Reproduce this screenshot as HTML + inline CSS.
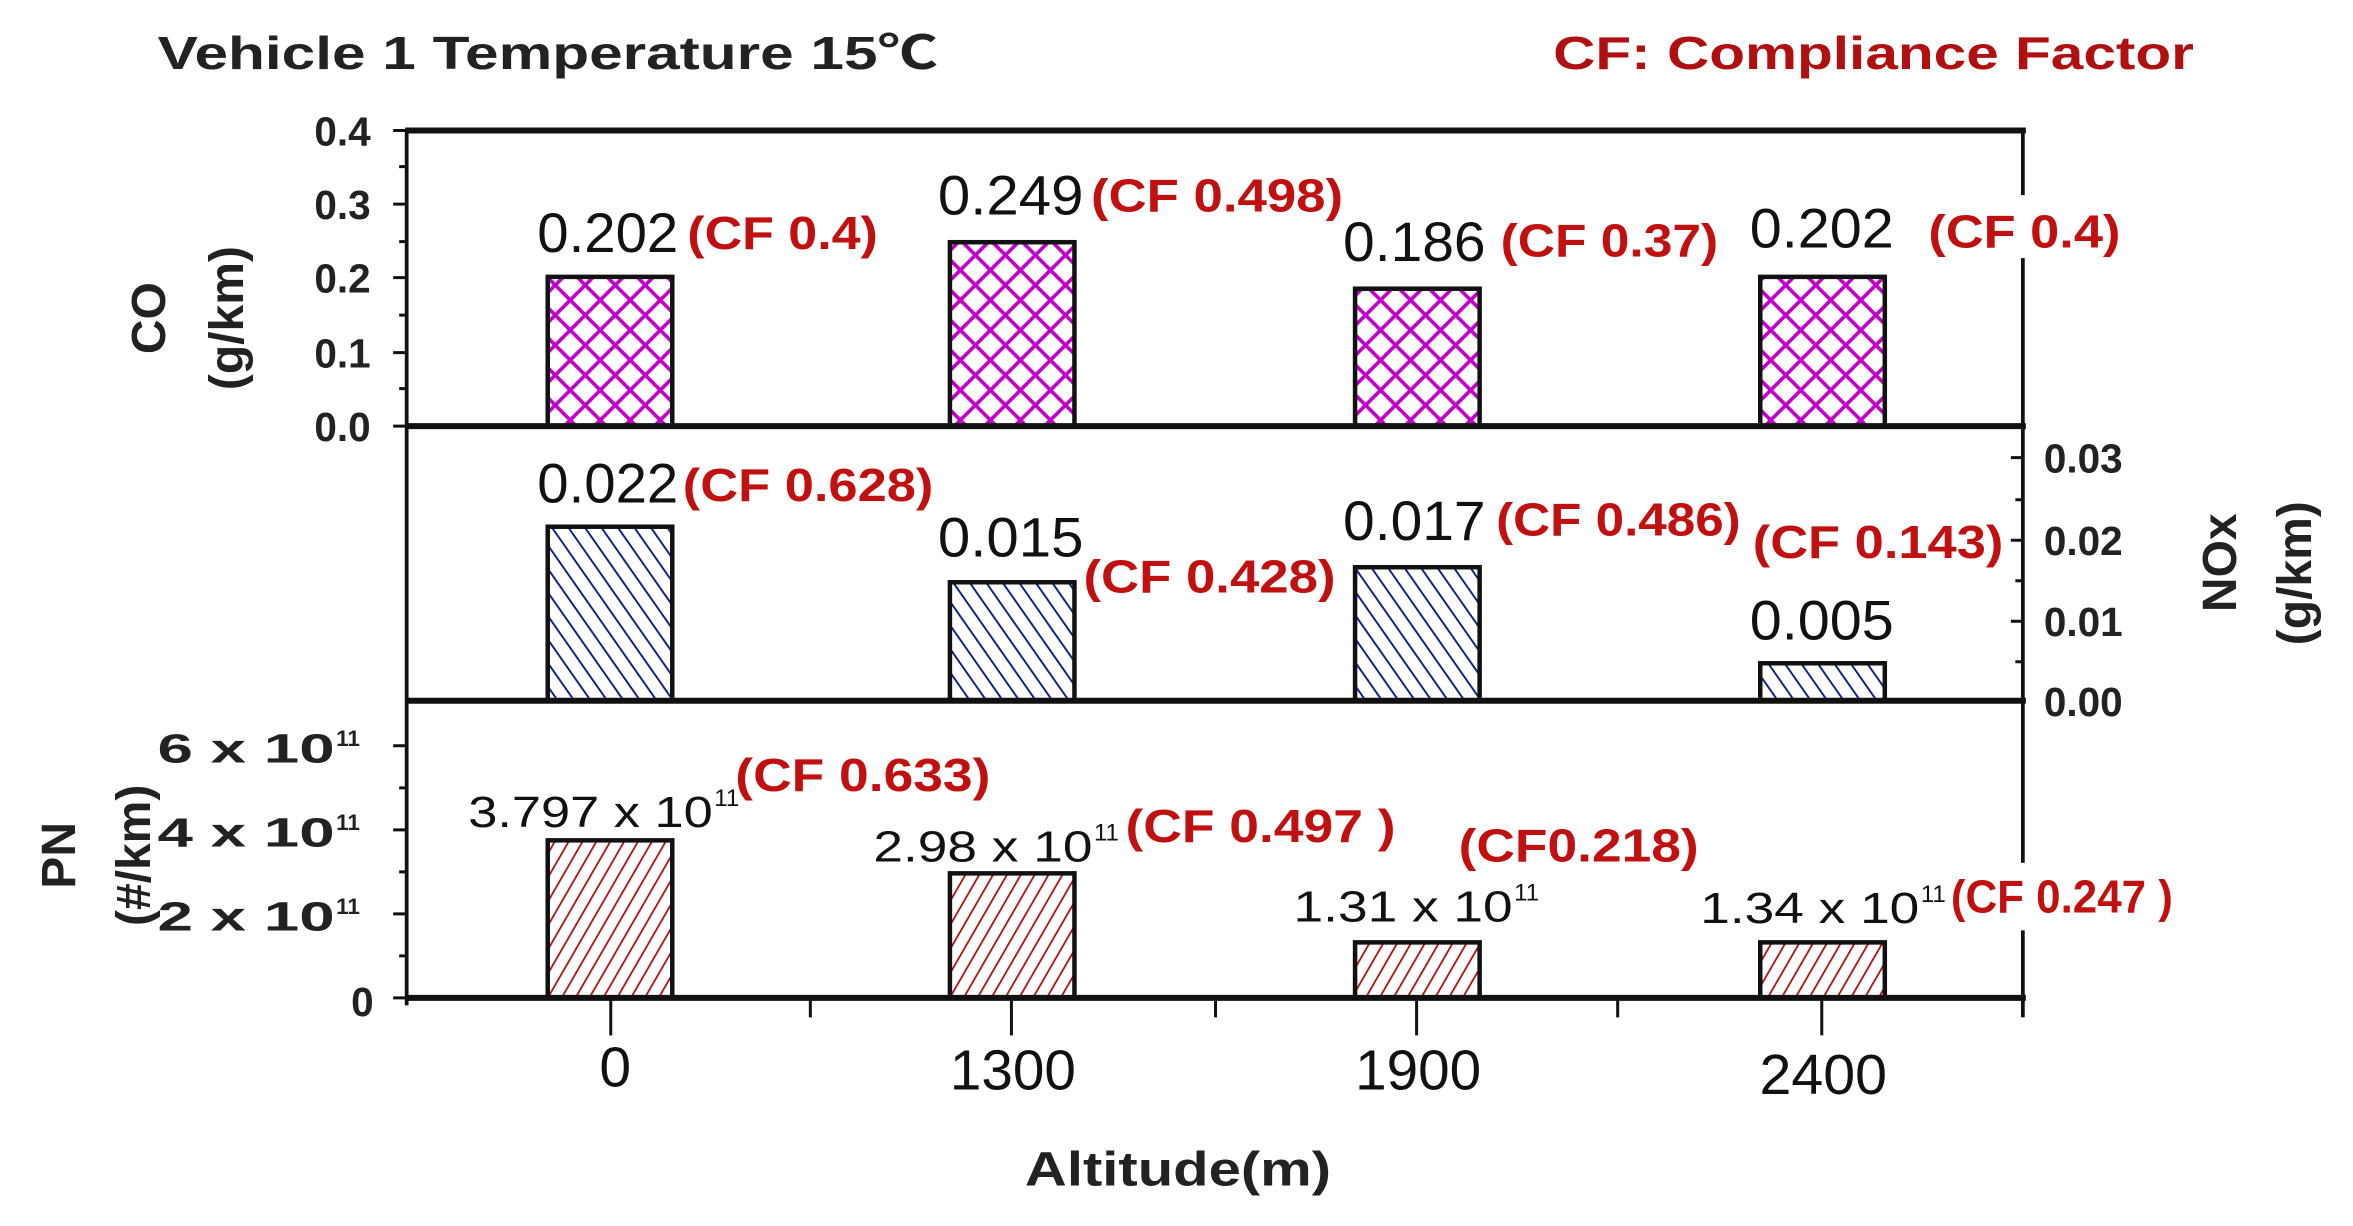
<!DOCTYPE html>
<html><head><meta charset="utf-8"><style>html,body{margin:0;padding:0;background:#fff}svg{display:block}</style></head>
<body>
<svg width="2353" height="1226" viewBox="0 0 1568 817" preserveAspectRatio="none" xmlns="http://www.w3.org/2000/svg" font-family="Liberation Sans, Noto Sans CJK SC, sans-serif">
<defs>
<pattern id="co" width="20" height="20" patternUnits="userSpaceOnUse"><path d="M0,0 L20,20 M20,0 L0,20" stroke="#c000c8" stroke-width="2.4"/></pattern>
<pattern id="nox" width="9" height="9" patternUnits="userSpaceOnUse" patternTransform="rotate(-35)"><line x1="0" y1="0" x2="0" y2="9" stroke="#10208a" stroke-width="2.6"/></pattern>
<pattern id="pn" width="8" height="8" patternUnits="userSpaceOnUse" patternTransform="rotate(30)"><line x1="0" y1="0" x2="0" y2="8" stroke="#b01010" stroke-width="2.4"/></pattern>
</defs>
<rect width="1568" height="817" fill="#fff"/>
<text x="105" y="46" font-size="31" font-weight="bold" fill="#222" textLength="520" lengthAdjust="spacingAndGlyphs">Vehicle 1  Temperature 15℃</text>
<text x="1035" y="46" font-size="31" font-weight="bold" fill="#b01010" textLength="427" lengthAdjust="spacingAndGlyphs">CF: Compliance Factor</text>

<g stroke="#111" stroke-width="3">
<rect x="365" y="184.5" width="83" height="99.5" fill="url(#co)"/>
<rect x="633" y="161.4" width="83" height="122.6" fill="url(#co)"/>
<rect x="903" y="192.4" width="83" height="91.6" fill="url(#co)"/>
<rect x="1173" y="184.5" width="83" height="99.5" fill="url(#co)"/>
<rect x="365" y="351" width="83" height="116" fill="url(#nox)"/>
<rect x="633" y="388" width="83" height="79" fill="url(#nox)"/>
<rect x="903" y="378" width="83" height="89" fill="url(#nox)"/>
<rect x="1173" y="442" width="83" height="25" fill="url(#nox)"/>
<rect x="365" y="560" width="83" height="105" fill="url(#pn)"/>
<rect x="633" y="582" width="83" height="83" fill="url(#pn)"/>
<rect x="903" y="628" width="83" height="37" fill="url(#pn)"/>
<rect x="1173" y="628" width="83" height="37" fill="url(#pn)"/>
</g>

<g stroke="#111" fill="none">
<line x1="270" y1="87" x2="1350" y2="87" stroke-width="4"/>
<line x1="270" y1="284" x2="1350" y2="284" stroke-width="4"/>
<line x1="270" y1="467" x2="1350" y2="467" stroke-width="4"/>
<line x1="270" y1="665" x2="1350" y2="665" stroke-width="4"/>
<line x1="271" y1="87" x2="271" y2="670" stroke-width="2.5"/>
<line x1="1348" y1="87" x2="1348" y2="678" stroke-width="2.5"/>
<path d="M262,87H271M262,136H271M262,185H271M262,235H271M262,284H271M266,111H271M266,161H271M266,210H271M266,259H271" stroke-width="2"/>
<path d="M262,497H271M262,553H271M262,609H271M262,665H271M266,525H271M266,581H271M266,637H271" stroke-width="2"/>
<path d="M1340,305H1348M1340,360H1348M1340,414H1348M1340,467H1348M1343,333H1348M1343,387H1348M1343,441H1348" stroke-width="2"/>
<path d="M407,665V690M674,665V690M944,665V690M1214,665V690M540,665V678M810,665V678M1078,665V678" stroke-width="2"/>
</g>

<g font-size="27" font-weight="bold" fill="#222" text-anchor="end">
<text x="247" y="97">0.4</text><text x="247" y="146">0.3</text><text x="247" y="195">0.2</text><text x="247" y="245">0.1</text><text x="247" y="294">0.0</text>
<text x="249" y="677">0</text>
</g>
<g font-size="27" font-weight="bold" fill="#222">
<text x="105" y="508" textLength="118" lengthAdjust="spacingAndGlyphs">6 x 10</text><text x="224" y="497" font-size="15">11</text>
<text x="105" y="564" textLength="118" lengthAdjust="spacingAndGlyphs">4 x 10</text><text x="224" y="553" font-size="15">11</text>
<text x="105" y="620" textLength="118" lengthAdjust="spacingAndGlyphs">2 x 10</text><text x="224" y="609" font-size="15">11</text>
<text x="1362" y="315">0.03</text><text x="1362" y="370">0.02</text><text x="1362" y="424">0.01</text><text x="1362" y="477">0.00</text>
</g>

<g font-size="32" font-weight="bold" fill="#222" text-anchor="middle">
<text transform="translate(110,212) rotate(-90)">CO</text>
<text transform="translate(162,212) rotate(-90)">(g/km)</text>
<text transform="translate(50,570) rotate(-90)">PN</text>
<text transform="translate(100,570) rotate(-90)">(#/km)</text>
<text transform="translate(1490,375) rotate(-90)">NOx</text>
<text transform="translate(1540,382) rotate(-90)">(g/km)</text>
<text x="785" y="790" textLength="204" lengthAdjust="spacingAndGlyphs">Altitude(m)</text>
</g>
<g font-size="38" fill="#111" text-anchor="middle">
<text x="410" y="724">0</text><text x="675" y="726" textLength="84" lengthAdjust="spacingAndGlyphs">1300</text><text x="945" y="726" textLength="84" lengthAdjust="spacingAndGlyphs">1900</text><text x="1215" y="729" textLength="85" lengthAdjust="spacingAndGlyphs">2400</text>
</g>

<g font-size="37" fill="#111">
<text x="358" y="168" textLength="94" lengthAdjust="spacingAndGlyphs">0.202</text>
<text x="625" y="143" textLength="97" lengthAdjust="spacingAndGlyphs">0.249</text>
<text x="895" y="174" textLength="95" lengthAdjust="spacingAndGlyphs">0.186</text>
<text x="1166" y="165" textLength="96" lengthAdjust="spacingAndGlyphs">0.202</text>
<text x="358" y="335" textLength="94" lengthAdjust="spacingAndGlyphs">0.022</text>
<text x="625" y="371" textLength="97" lengthAdjust="spacingAndGlyphs">0.015</text>
<text x="895" y="360" textLength="95" lengthAdjust="spacingAndGlyphs">0.017</text>
<text x="1166" y="426" textLength="96" lengthAdjust="spacingAndGlyphs">0.005</text>
</g>
<g font-size="29" fill="#111">
<text x="312" y="551" textLength="163" lengthAdjust="spacingAndGlyphs">3.797 x 10</text><text x="476" y="537" font-size="16">11</text>
<text x="582" y="574" textLength="146" lengthAdjust="spacingAndGlyphs">2.98 x 10</text><text x="729" y="560" font-size="16">11</text>
<text x="862" y="614" textLength="146" lengthAdjust="spacingAndGlyphs">1.31 x 10</text><text x="1009" y="600" font-size="16">11</text>
<text x="1133" y="615" textLength="146" lengthAdjust="spacingAndGlyphs">1.34 x 10</text><text x="1280" y="601" font-size="16">11</text>
</g>
<rect x="1283" y="130" width="132" height="42" fill="#fff"/>
<rect x="1298" y="575" width="152" height="45" fill="#fff"/>
<g font-size="31" font-weight="bold" fill="#c01010" lengthAdjust="spacingAndGlyphs">
<text x="458" y="166" textLength="127" lengthAdjust="spacingAndGlyphs">(CF 0.4)</text>
<text x="727" y="141" textLength="168" lengthAdjust="spacingAndGlyphs">(CF 0.498)</text>
<text x="1000" y="171" textLength="145" lengthAdjust="spacingAndGlyphs">(CF 0.37)</text>
<text x="1285" y="165" textLength="128" lengthAdjust="spacingAndGlyphs">(CF 0.4)</text>
<text x="455" y="334" textLength="167" lengthAdjust="spacingAndGlyphs">(CF 0.628)</text>
<text x="722" y="395" textLength="168" lengthAdjust="spacingAndGlyphs">(CF 0.428)</text>
<text x="997" y="357" textLength="163" lengthAdjust="spacingAndGlyphs">(CF 0.486)</text>
<text x="1168" y="372" textLength="167" lengthAdjust="spacingAndGlyphs">(CF 0.143)</text>
<text x="490" y="527" textLength="170" lengthAdjust="spacingAndGlyphs">(CF 0.633)</text>
<text x="750" y="561" textLength="180" lengthAdjust="spacingAndGlyphs">(CF 0.497 )</text>
<text x="972" y="574" textLength="160" lengthAdjust="spacingAndGlyphs">(CF0.218)</text>
<text x="1300" y="608" textLength="148" lengthAdjust="spacingAndGlyphs">(CF 0.247 )</text>
</g>
</svg>
</body></html>
